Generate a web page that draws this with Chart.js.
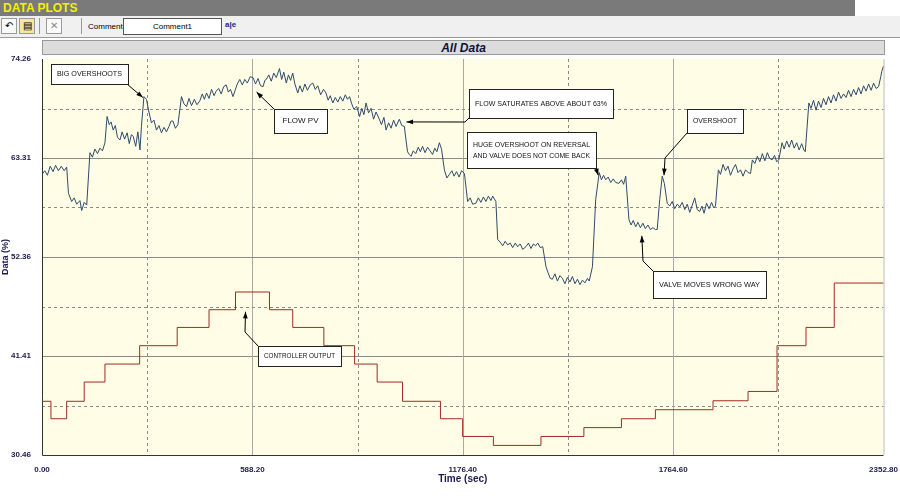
<!DOCTYPE html>
<html>
<head>
<meta charset="utf-8">
<script src="https://cdn.jsdelivr.net/npm/chart.js@4"></script>
<style>
  body { margin: 0; background: #fff; font-family: "Liberation Sans", Arial, sans-serif; }
  #wrap { position: relative; width: 900px; height: 500px; overflow: hidden; }
  canvas { position: absolute; left: 0; top: 0; }
  .hdr { position: absolute; left: 0; top: 0; width: 855px; height: 16px; background: #7a7a7a; color: #f4f000; font-weight: bold; font-size: 12px; line-height: 16px; padding-left: 3px; box-sizing: border-box; }
  .bar { position: absolute; left: 0; top: 16px; width: 900px; height: 21px; background: #f0f0f0; border-bottom: 1px solid #999; font-size: 8px; }
  .btn { position: absolute; top: 2px; width: 14px; height: 14px; border: 1px solid #999; background: #fafafa; font-size: 10px; line-height: 14px; text-align: center; }
  .sep { position: absolute; top: 2px; width: 1px; height: 16px; background: #999; }
  .title { position: absolute; left: 42px; top: 40px; width: 843px; height: 15px; background: #dcdcdc; border: 1px solid #999; box-sizing: border-box; text-align: center; font: italic bold 12px "Liberation Sans", Arial, sans-serif; color: #10103c; line-height: 14px; }
</style>
</head>
<body>
<div id="wrap">
  <canvas id="plot" width="900" height="500"></canvas>
  <div class="hdr">DATA PLOTS</div>
  <div class="bar">
    <div class="btn" style="left:1px">&#8630;</div>
    <div class="btn" style="left:19px;background:#f6e7a0">&#9636;</div>
    <div class="sep" style="left:39px"></div>
    <div class="btn" style="left:46px;color:#888">&#10005;</div>
    <div class="sep" style="left:81px"></div>
    <div style="position:absolute;left:88px;top:6px">Comment</div>
    <div style="position:absolute;left:123px;top:2px;width:97px;height:15px;border:1px solid #555;background:#fff;text-align:center;line-height:15px">Comment1</div>
    <div style="position:absolute;left:225px;top:4px;color:#24248a;font-weight:bold">a|e</div>
  </div>
  <div class="title">All Data</div>
</div>
<script>
// tick labels
const yTicks = ['30.46', '41.41', '52.36', '63.31', '74.26'];
const xTicks = ['0.00', '588.20', '1176.40', '1764.60', '2352.80'];

// controller output: [time, value] at each step change
const controllerOutput = [
  [0, 36.87], [25, 36.4], [69, 34.47], [118, 36.4], [176, 38.53], [273, 40.52],
  [378, 42.55], [467, 44.57], [541, 46.53], [636, 48.49], [701, 46.53], [788, 44.57],
  [874, 42.55], [937, 40.52], [1008, 38.53], [1114, 36.4], [1176, 34.47], [1262, 32.51],
  [1395, 31.52], [1515, 32.51], [1620, 33.49], [1715, 34.47], [1876, 35.47], [1974, 36.46],
  [2055, 37.49], [2136, 42.55], [2215, 44.57], [2337, 49.48], [2352.8, 49.48]
];

// flow PV
const flowPv = [
  [0,61.5],[8,61.9],[15,61.4],[23,62.4],[31,61.8],[38,62.5],[46,61.9],[54,62.4],[62,61.9],[69,62.3],
  [74,59.4],[83,58.5],[90,58.9],[97,58.2],[106,58.6],[111,57.5],[118,58.4],[125,58.1],[134,63.9],[141,63.4],
  [148,64.3],[155,63.8],[162,64.4],[169,64.1],[176,65.0],[182,67.9],[188,67.0],[193,67.3],[199,66.4],[205,66.9],
  [211,65.6],[218,65.3],[224,66.2],[231,65.4],[238,66.1],[244,64.9],[250,65.9],[255,65.7],[262,64.6],[268,66.2],
  [274,64.2],[278,66.8],[285,70.1],[292,69.8],[299,68.4],[306,67.2],[313,67.5],[320,66.4],[327,66.9],[334,66.1],
  [341,66.7],[348,66.2],[355,66.8],[361,67.4],[366,67.4],[373,66.6],[380,67.0],[390,70.1],[397,69.3],[404,69.0],
  [411,69.9],[418,69.1],[426,69.8],[433,69.2],[441,69.6],[448,70.4],[454,69.8],[460,70.5],[467,69.9],[474,70.9],
  [481,70.2],[487,70.7],[494,71.0],[501,70.4],[508,71.2],[515,71.4],[521,70.6],[527,70.9],[534,70.1],[540,70.8],
  [546,71.5],[553,72.0],[560,71.4],[567,72.0],[574,71.6],[582,72.3],[590,72.2],[597,71.5],[604,72.1],[611,71.3],
  [618,71.2],[623,71.9],[627,72.0],[634,72.5],[641,71.8],[648,72.7],[655,72.2],[664,73.2],[670,72.0],[676,72.8],
  [683,71.6],[689,72.5],[695,71.9],[701,72.7],[707,71.5],[715,70.5],[721,71.3],[728,70.6],[735,71.5],[742,70.8],
  [750,71.4],[757,71.6],[764,70.9],[771,71.3],[779,70.3],[787,70.9],[794,70.5],[800,69.7],[806,70.2],[813,69.4],
  [820,70.0],[827,69.5],[834,70.1],[841,69.6],[848,70.3],[854,69.8],[860,70.1],[866,69.3],[872,68.7],[880,69.0],
  [888,67.9],[894,68.8],[900,68.1],[906,69.4],[913,68.3],[920,68.8],[927,67.6],[934,68.4],[943,67.6],[949,67.0],
  [956,67.8],[962,66.4],[969,67.2],[976,66.6],[983,67.5],[990,66.8],[999,67.6],[1006,66.9],[1013,66.8],[1018,65.2],
  [1022,64.0],[1027,63.7],[1032,63.5],[1038,64.1],[1045,63.8],[1052,64.5],[1058,64.0],[1064,64.6],[1071,63.9],[1078,64.5],
  [1085,64.1],[1092,63.7],[1098,64.4],[1104,64.0],[1111,65.0],[1117,64.3],[1125,62.0],[1132,61.1],[1139,61.5],[1146,61.9],
  [1152,61.3],[1159,61.8],[1166,61.2],[1173,61.9],[1181,61.6],[1190,58.5],[1197,58.9],[1204,58.2],[1213,58.3],[1220,58.9],
  [1227,58.4],[1234,59.0],[1241,58.5],[1248,59.1],[1255,58.6],[1260,59.1],[1269,58.5],[1274,54.3],[1281,54.0],[1288,53.6],
  [1295,54.1],[1302,53.7],[1309,53.9],[1316,53.4],[1323,53.9],[1330,53.5],[1337,53.8],[1344,53.2],[1353,53.5],[1360,53.9],
  [1367,53.3],[1374,53.8],[1380,53.6],[1386,53.9],[1393,53.4],[1400,53.5],[1409,51.3],[1415,50.6],[1421,50.0],[1427,49.9],
  [1434,50.5],[1441,49.7],[1448,50.3],[1455,50.0],[1462,49.4],[1469,50.1],[1476,49.6],[1483,50.2],[1490,49.4],[1497,49.9],
  [1504,49.3],[1511,49.8],[1518,49.5],[1525,50.0],[1530,49.7],[1539,51.3],[1548,58.7],[1558,61.7],[1564,60.9],[1570,61.4],
  [1576,60.9],[1583,61.2],[1590,60.6],[1597,61.0],[1604,60.6],[1613,60.5],[1620,60.9],[1626,60.4],[1632,61.3],[1641,56.5],
  [1647,55.9],[1653,56.4],[1660,55.7],[1666,56.2],[1673,55.6],[1680,56.1],[1687,55.5],[1694,55.9],[1701,55.4],[1708,55.6],
  [1715,55.4],[1720,55.4],[1727,58.7],[1734,61.3],[1740,60.5],[1748,58.3],[1755,58.0],[1762,58.5],[1769,57.7],[1776,58.2],
  [1783,57.9],[1790,58.4],[1797,57.6],[1804,58.2],[1811,57.3],[1818,58.1],[1825,58.9],[1832,57.6],[1839,57.4],[1845,58.0],
  [1851,57.2],[1858,58.3],[1865,57.7],[1872,58.4],[1878,57.8],[1883,58.0],[1891,62.0],[1897,61.5],[1904,62.6],[1911,61.9],
  [1918,62.4],[1925,61.4],[1932,62.1],[1939,62.6],[1946,61.7],[1953,62.0],[1960,61.3],[1967,62.0],[1974,61.7],[1981,61.6],
  [1986,63.1],[1993,62.7],[2000,63.5],[2007,62.9],[2014,63.8],[2021,63.0],[2028,63.9],[2034,63.3],[2041,63.1],[2048,63.6],
  [2054,62.9],[2060,63.1],[2069,65.0],[2075,64.3],[2082,65.2],[2089,64.5],[2096,65.3],[2103,64.4],[2110,65.0],[2117,64.2],
  [2124,64.9],[2130,64.2],[2134,64.0],[2144,69.4],[2150,68.8],[2157,69.7],[2164,68.6],[2171,69.6],[2178,68.9],[2185,69.9],
  [2192,69.2],[2199,70.1],[2206,69.4],[2213,70.3],[2220,69.6],[2227,70.6],[2234,69.9],[2241,70.4],[2248,70.0],[2255,70.8],
  [2262,70.1],[2269,70.9],[2276,70.3],[2283,71.1],[2290,70.4],[2297,71.3],[2304,70.7],[2311,71.5],[2318,70.8],[2325,71.6],
  [2332,71.0],[2339,71.2],[2345,72.3],[2348,72.9],[2352.8,73.5]
];

// callouts: box (px), bend points (px), arrow tip in data units
const notes = [
  { text: ['BIG OVERSHOOTS'], box: [51, 64, 77, 20], path: [[127, 84]], tip: [282, 70.0] },
  { text: ['FLOW PV'], box: [274, 109, 53, 24], path: [[274, 109]], tip: [600, 70.6] },
  { text: ['CONTROLLER OUTPUT'], box: [258, 346, 83, 20], path: [[258, 346], [245, 332]], tip: [569, 46.3] },
  { text: ['FLOW SATURATES ABOVE ABOUT 63%'], box: [469, 89, 144, 29], path: [[469, 118], [465, 122]], tip: [1019, 67.3] },
  { text: ['HUGE OVERSHOOT ON REVERSAL', 'AND VALVE DOES NOT COME BACK'], box: [467, 132, 129, 36], path: [[596, 168]], tip: [1555, 61.4] },
  { text: ['OVERSHOOT'], box: [687, 109, 56, 24], path: [[687, 133], [665, 158]], tip: [1739, 61.4] },
  { text: ['VALVE MOVES WRONG WAY'], box: [653, 271, 113, 27], path: [[653, 271], [643, 261]], tip: [1677, 54.7] }
];

const yMin = 30.46, yMax = 74.26, xMax = 2352.8;
const yStep = (yMax - yMin) / 8, xStep = xMax / 8;

// background + grid drawn under the lines
const gridPlugin = {
  id: 'grid',
  beforeDatasetsDraw(chart) {
    const { ctx, chartArea: a, scales: { x, y } } = chart;
    ctx.save();
    ctx.fillStyle = '#fffde6';
    ctx.fillRect(a.left, a.top, a.right - a.left, a.bottom - a.top);
    ctx.lineWidth = 1;
    for (let i = 1; i < 8; i++) {
      const py = Math.round(y.getPixelForValue(yMin + i * yStep)) + 0.5;
      const px = Math.round(x.getPixelForValue(i * xStep)) + 0.5;
      const major = i % 2 === 0;
      ctx.strokeStyle = '#8a8a8a';
      ctx.setLineDash(major ? [] : [3, 3]);
      ctx.beginPath(); ctx.moveTo(a.left, py); ctx.lineTo(a.right, py); ctx.stroke();
      ctx.strokeStyle = major ? '#a8a8a8' : '#8a8a8a';
      ctx.beginPath(); ctx.moveTo(px, a.top); ctx.lineTo(px, a.bottom); ctx.stroke();
    }
    ctx.setLineDash([]);
    ctx.strokeStyle = '#333';
    ctx.beginPath();
    ctx.moveTo(a.left + 0.5, a.top); ctx.lineTo(a.left + 0.5, a.bottom + 0.5); ctx.lineTo(a.right, a.bottom + 0.5);
    ctx.stroke();
    ctx.strokeStyle = '#bbb';
    ctx.beginPath(); ctx.moveTo(a.right + 0.5, a.top); ctx.lineTo(a.right + 0.5, a.bottom); ctx.stroke();
    ctx.restore();
  }
};

function arrowHead(ctx, fx, fy, tx, ty) {
  const ang = Math.atan2(ty - fy, tx - fx);
  ctx.beginPath();
  ctx.moveTo(tx, ty);
  ctx.lineTo(tx - 7 * Math.cos(ang - 0.35), ty - 7 * Math.sin(ang - 0.35));
  ctx.lineTo(tx - 7 * Math.cos(ang + 0.35), ty - 7 * Math.sin(ang + 0.35));
  ctx.closePath();
  ctx.fill();
}

// callout boxes with arrows
const notePlugin = {
  id: 'notes',
  afterDatasetsDraw(chart) {
    const { ctx, scales: { x, y } } = chart;
    ctx.save();
    notes.forEach(n => {
      const tx = x.getPixelForValue(n.tip[0]), ty = y.getPixelForValue(n.tip[1]);
      ctx.strokeStyle = '#000'; ctx.fillStyle = '#000'; ctx.lineWidth = 1;
      ctx.beginPath();
      ctx.moveTo(n.path[0][0], n.path[0][1]);
      n.path.forEach(p => ctx.lineTo(p[0], p[1]));
      ctx.lineTo(tx, ty);
      ctx.stroke();
      const last = n.path[n.path.length - 1];
      arrowHead(ctx, last[0], last[1], tx, ty);
      const [bx, by, bw, bh] = n.box;
      ctx.fillStyle = '#fff';
      ctx.fillRect(bx, by, bw, bh);
      ctx.strokeStyle = '#222';
      ctx.strokeRect(bx + 0.5, by + 0.5, bw, bh);
      ctx.fillStyle = '#111';
      ctx.font = '8px "Liberation Sans", Arial, sans-serif';
      ctx.textBaseline = 'middle';
      const lh = 11, y0 = by + bh / 2 - (n.text.length - 1) * lh / 2;
      n.text.forEach((t, i) => {
        // squeeze text horizontally to fit the box like the narrow original font
        const w = ctx.measureText(t).width, avail = bw - 12;
        const k = Math.min(1, avail / w);
        ctx.save();
        ctx.translate(bx + bw / 2, y0 + i * lh);
        ctx.scale(k, 1);
        ctx.textAlign = 'center';
        ctx.fillText(t, 0, 0);
        ctx.restore();
      });
    });
    ctx.restore();
  }
};

const toXY = arr => arr.map(p => ({ x: p[0], y: p[1] }));

new Chart(document.getElementById('plot').getContext('2d'), {
  type: 'line',
  data: {
    datasets: [
      {
        label: 'Flow PV',
        data: toXY(flowPv),
        borderColor: '#2e4a6b',
        borderWidth: 1,
        pointRadius: 0,
        tension: 0
      },
      {
        label: 'Controller Output',
        data: toXY(controllerOutput),
        borderColor: '#a02a22',
        borderWidth: 1,
        pointRadius: 0,
        stepped: 'after'
      }
    ]
  },
  options: {
    responsive: false,
    animation: false,
    layout: { padding: { top: 59, right: 15, left: 0, bottom: 15 } },
    plugins: { legend: { display: false }, tooltip: { enabled: false } },
    scales: {
      x: {
        type: 'linear',
        min: 0,
        max: xMax,
        grid: { display: false },
        border: { display: false },
        afterBuildTicks: s => { s.ticks = xTicks.map(v => ({ value: parseFloat(v) })); },
        afterFit: s => { s.height = 30; },
        ticks: {
          callback: (v, i) => xTicks[i],
          maxRotation: 0,
          autoSkip: false,
          padding: 2,
          color: '#1a1a50',
          font: { size: 8, weight: 'bold', family: 'Liberation Sans' }
        },
        title: { display: true, text: 'Time (sec)', color: '#1a1a50', padding: 0, font: { size: 10, weight: 'bold', family: 'Liberation Sans' } }
      },
      y: {
        min: yMin,
        max: yMax,
        grid: { display: false },
        border: { display: false },
        afterBuildTicks: s => { s.ticks = yTicks.map(v => ({ value: parseFloat(v) })); },
        afterFit: s => { s.width = 42; },
        ticks: {
          callback: (v, i) => yTicks[i],
          autoSkip: false,
          padding: 3,
          color: '#1a1a50',
          font: { size: 8, weight: 'bold', family: 'Liberation Sans' }
        },
        title: { display: true, text: 'Data (%)', color: '#1a1a50', padding: { top: 0, bottom: 0 }, font: { size: 9, weight: 'bold', family: 'Liberation Sans' } }
      }
    }
  },
  plugins: [gridPlugin, notePlugin]
});
</script>
</body>
</html>
